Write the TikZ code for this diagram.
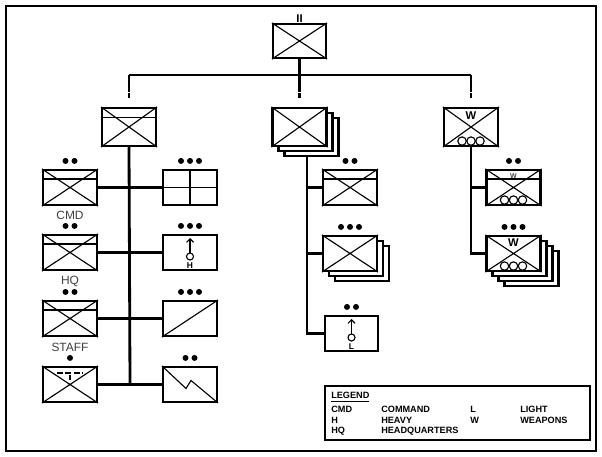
\documentclass[tikz,border=0pt]{standalone}
\usepackage{fontspec}
\setmainfont{Liberation Sans}
\usetikzlibrary{calc,arrows.meta}
\tikzset{
  unit/.style={draw, line width=1.5pt, fill=white, minimum width=1.35cm, minimum height=0.875cm, inner sep=0pt},
  big/.style={unit, minimum height=0.95cm},
  link/.style={line width=2pt},
  thin/.style={line width=0.8pt},
  lbl/.style={font=\fontsize{8.5}{9}\selectfont, text=black!75},
  leg/.style={font=\bfseries\fontsize{6.5}{7}\selectfont, anchor=west, inner sep=0pt}
}
\newcommand\crossit[1]{\draw[thin] (#1.north west) -- (#1.south east) (#1.south west) -- (#1.north east);}
\newcommand\topbar[1]{\draw[thin] ($(#1.north west)!0.27!(#1.south west)$) -- ($(#1.north east)!0.27!(#1.south east)$);}
\newcommand\pips[2]{\foreach \k in {1,...,#2} {\fill ($(#1.north)+({(\k-(#2+1)/2)*9},-8)$) circle (3);}}
\newcommand\rings[1]{\foreach \k in {-1,0,1} {\draw[thin] ($(#1.south)+(\k*9,-6)$) circle (4.2);}}
\newcommand\gun[2]{\draw[thin] ($(#1.center)+(0,4)$) circle (3.5);
  \draw[thin,-{Straight Barb[length=2.5pt]}] ($(#1.center)+(0,0.5)$) -- ++(0,-15);
  \node[font=\bfseries\fontsize{6}{6}\selectfont, inner sep=0pt] at ($(#1.center)+(0,13)$) {#2};}
\begin{document}
\begin{tikzpicture}[x=0.025cm,y=-0.025cm]
\draw[line width=1.4pt] (6,6) rectangle (596,451);
\useasboundingbox (0,0) rectangle (602,457);

% top of the tree
\node[unit, minimum height=0.85cm, minimum width=1.325cm] (bn) at (299.5,41) {};
\crossit{bn}
\node[font=\bfseries\fontsize{8}{8}\selectfont, inner sep=0pt] at (299.5,19) {II};
\coordinate (bar) at (299.5,75);

\node[big] (co1) at (129,127) {};
\crossit{co1} \topbar{co1}
\node[big] (co2b) at (311.5,137) {};
\node[big] (co2a) at (305.5,132) {};
\node[big] (co2) at (299.5,127) {};
\crossit{co2}
\node[big] (co3) at (471,127) {};
\crossit{co3} \rings{co3}
\node[font=\bfseries\fontsize{8}{8}\selectfont, inner sep=0pt] at (471,116) {W};

\draw[link] (bn.south) -- (bar);
\draw[link] (bar -| co1) -- (bar -| co3);
\foreach \c in {co1,co2,co3} {
  \draw[link] (bar -| \c) -- ++(0,17);
  \draw[link] ($(\c.north)+(0,-9)$) -- ++(0,-5);
}

% first company
\foreach \n/\y in {1/187.5,2/252.5,3/318.5,4/384.5} {
  \node[unit] (la\n) at (70,\y) {};
  \node[unit] (lb\n) at (190,\y) {};
  \draw[link] (la\n.east) -- (lb\n.west);
}
\foreach \n in {1,2,3} {\crossit{la\n} \topbar{la\n} \pips{la\n}{2}}
\crossit{la4} \pips{la4}{1}
\draw[thin, dash pattern=on 4pt off 2pt] ($(la4.north)+(-13,7)$) -- ++(26,0);
\draw[thin] ($(la4.north)+(0,9)$) -- ++(0,5);
\node[lbl] at (70,215) {CMD};
\node[lbl] at (70,281) {HQ};
\node[lbl] at (70,347) {STAFF};
\draw[link] (co1.south) -- ($(la4.east)!0.5!(lb4.west)$);

\draw[thin] (lb1.north) -- (lb1.south) (lb1.west) -- (lb1.east); \pips{lb1}{3}
\gun{lb2}{H} \pips{lb2}{3}
\draw[thin] (lb3.south west) -- (lb3.north east); \pips{lb3}{3}
\draw[thin] (lb4.north west) -- ($(lb4.center)+(-4,4)$) -- ($(lb4.center)+(1,-4)$) -- (lb4.south east); \pips{lb4}{2}

% second company
\coordinate (mt) at (307,156);
\node[unit] (ma1) at (350,187.5) {};
\crossit{ma1} \topbar{ma1} \pips{ma1}{2}
\node[unit] (ma2c) at (362,263.5) {};
\node[unit] (ma2b) at (356,258.5) {};
\node[unit] (ma2) at (350,253.5) {};
\crossit{ma2} \pips{ma2}{3}
\node[unit, minimum width=1.325cm] (ma3) at (351.5,333.5) {};
\gun{ma3}{L} \pips{ma3}{2}
\draw[link] (ma1.west) -| (mt);
\draw[link] (ma2.west) -| (mt);
\draw[link] (ma3.west) -| (mt);

% weapons company
\node[unit] (wa1) at (513.5,187.5) {};
\crossit{wa1} \topbar{wa1} \rings{wa1} \pips{wa1}{2}
\node[font=\bfseries\fontsize{5}{5}\selectfont, inner sep=0pt, text=black!70] at (513.5,176) {W};
\node[unit] (wa2d) at (531.5,268.5) {};
\node[unit] (wa2c) at (525.5,263.5) {};
\node[unit] (wa2b) at (519.5,258.5) {};
\node[unit] (wa2) at (513.5,253.5) {};
\crossit{wa2} \rings{wa2} \pips{wa2}{3}
\node[font=\bfseries\fontsize{8}{8}\selectfont, inner sep=0pt] at (513.5,243) {W};
\draw[link] (wa1.west) -| (co3.south);
\draw[link] (wa2.west) -| (co3.south);

% legend
\node[draw, line width=1.4pt, minimum width=6.625cm, minimum height=1.35cm] (legend) at (457.5,413) {};
\node[leg] at (331,397) {\underline{LEGEND}};
\foreach \y/\a/\b/\c/\d in {409/CMD/COMMAND/L/LIGHT, 420/H/HEAVY/W/WEAPONS, 431/HQ/HEADQUARTERS//} {
  \node[leg] at (331,\y) {\a};
  \node[leg] at (381,\y) {\b};
  \node[leg] at (470,\y) {\c};
  \node[leg] at (520,\y) {\d};
}
\end{tikzpicture}
\end{document}
